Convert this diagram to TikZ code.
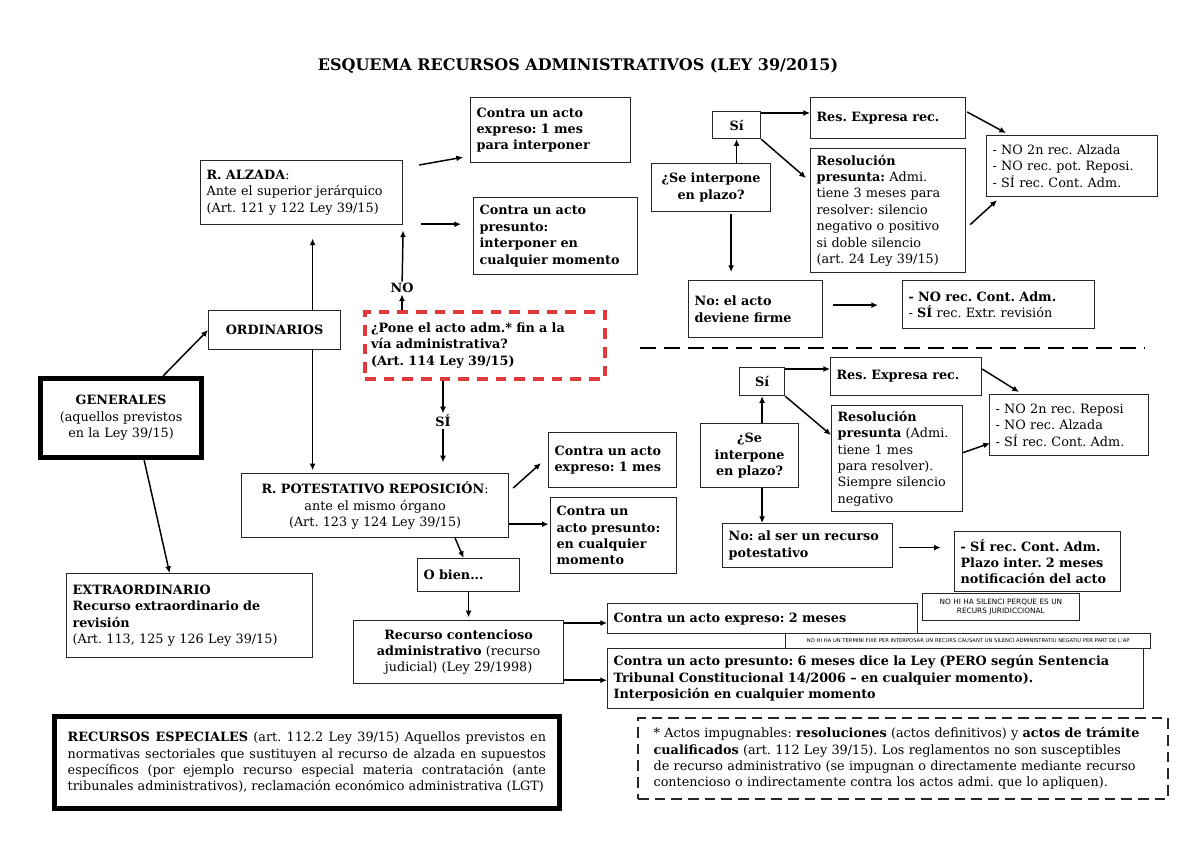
\documentclass[tikz,border=0pt]{standalone}
\usepackage{fontspec}
\setmainfont{DejaVu Serif}
\setsansfont{DejaVu Sans}
\usetikzlibrary{arrows.meta, calc, positioning}
\definecolor{redline}{HTML}{E0393B}
\newcommand\diagfont{\fontsize{9.6}{12.3}\selectfont}
\frenchspacing
\tikzset{
  box/.style={draw=black!85, line width=0.9pt, anchor=north west, inner xsep=4.5pt, inner ysep=2pt, font=\diagfont, align=left},
  boxc/.style={box, align=center},
  bbox/.style={box, font=\diagfont\bfseries},
  bboxc/.style={bbox, align=center},
  heavybox/.style={box, line width=3.6pt, draw=black},
  redbox/.style={bbox, draw=redline, line width=3pt, dash pattern=on 8pt off 6pt},
  notebox/.style={box, line width=1.4pt, dash pattern=on 8pt off 4.5pt},
  tinybox/.style={box, align=center, inner sep=1pt, line width=0.8pt},
  lbl/.style={font=\diagfont\bfseries, inner sep=1pt},
  sep/.style={line width=2.2pt, dash pattern=on 12pt off 6pt}
}

\begin{document}
\begin{tikzpicture}[x=0.75pt, y=-0.75pt]
  \tikzset{arr/.style={-{Latex[length=5pt,width=4.5pt]}, line width=1.1pt}};
  \fill[white] (0,0) rectangle (1200,848);
  \useasboundingbox (0,0) rectangle (1200,848);

  \node[font=\fontsize{12}{14}\selectfont\bfseries] (title) at (578,66) {ESQUEMA RECURSOS ADMINISTRATIVOS (LEY 39/2015)};

  % left column
  \node[heavybox, align=center, text width=112pt, minimum height=59.25pt] (generales) at (38,376) {\textbf{GENERALES}\\(aquellos previstos\\en la Ley 39/15)};
  \node[bboxc, text width=90pt, minimum height=29.25pt] (ordinarios) at (208,310) {ORDINARIOS};
  \node[box, text width=175.5pt, minimum height=63pt] (extra) at (66,573) {\textbf{EXTRAORDINARIO}\\\textbf{Recurso extraordinario de}\\\textbf{revisión}\\(Art. 113, 125 y 126 Ley 39/15)};

  % alzada
  \node[box, text width=142.5pt, minimum height=48pt] (alzada) at (200,160) {\textbf{R. ALZADA}:\\Ante el superior jerárquico\\(Art. 121 y 122 Ley 39/15)};
  \node[bbox, text width=111pt, minimum height=48.75pt] (expreso1) at (470,97) {Contra un acto\\expreso: 1 mes\\para interponer};
  \node[bbox, text width=114pt, minimum height=57.75pt] (presunto1) at (473,197) {Contra un acto\\presunto:\\interponer en\\cualquier momento};
  \node[redbox, text width=171pt, minimum height=50.25pt] (pone) at (363,310) {¿Pone el acto adm.* fin a la\\vía administrativa?\\(Art. 114 Ley 39/15)};
  \node[lbl] (nolbl) at (402,288) {NO};
  \node[lbl] (silbl) at (443,421) {SÍ};

  % potestativo
  \node[boxc, text width=191.25pt, minimum height=48pt] (potest) at (241,473) {\textbf{R. POTESTATIVO REPOSICIÓN}:\\ante el mismo órgano\\(Art. 123 y 124 Ley 39/15)};
  \node[bbox, text width=87pt, minimum height=41.25pt] (expreso2) at (548,432) {Contra un acto\\expreso: 1 mes};
  \node[bbox, text width=85.5pt, minimum height=57pt] (presunto2) at (550,497) {Contra un\\acto presunto:\\en cualquier\\momento};
  \node[bbox, text width=67.5pt, minimum height=24.75pt] (obien) at (417,558) {O bien...};

  % contencioso
  \node[boxc, text width=148.5pt, minimum height=47.25pt] (conten) at (353,620) {\textbf{Recurso contencioso}\\\textbf{administrativo} (recurso\\judicial) (Ley 29/1998)};
  \node[bbox, text width=223.5pt, minimum height=22.5pt] (expreso3) at (607,603) {Contra un acto expreso: 2 meses};
  \node[bbox, text width=393pt, minimum height=45pt] (presunto3) at (607,648) {Contra un acto presunto: 6 meses dice la Ley (PERO según Sentencia\\Tribunal Constitucional 14/2006 – en cualquier momento).\\Interposición en cualquier momento};
  \node[tinybox, text width=115.5pt, minimum height=20.25pt, font=\sffamily\fontsize{5.5}{6.8}\selectfont] (silenci) at (922,593) {NO HI HA SILENCI PERQUE ES UN\\RECURS JURIDICCIONAL};
  \node[tinybox, text width=272pt, minimum height=11.25pt, font=\sffamily\fontsize{3.9}{4.5}\selectfont] (termini) at (785,633) {NO HI HA UN TERMINI FIXE PER INTERPOSAR UN RECURS CAUSANT UN SILENCI ADMINISTRATIU NEGATIU PER PART DE L'AP};

  % upper right
  \node[bboxc, text width=27pt, minimum height=20.25pt] (si1) at (712,111) {Sí};
  \node[bboxc, text width=80.25pt, minimum height=36pt] (plazo1) at (651,163) {¿Se interpone\\en plazo?};
  \node[bbox, text width=107.25pt, minimum height=30.75pt] (resexp1) at (810,97) {Res. Expresa rec.};
  \node[box, text width=107.25pt, minimum height=93pt] (respres1) at (810,148) {\textbf{Resolución}\\\textbf{presunta:} Admi.\\tiene 3 meses para\\resolver: silencio\\negativo o positivo\\si doble silencio\\(art. 24 Ley 39/15)};
  \node[box, text width=119.25pt, minimum height=45.75pt] (list1) at (986,135) {- NO 2n rec. Alzada\\- NO rec. pot. Reposi.\\- SÍ rec. Cont. Adm.};
  \node[bbox, text width=91.5pt, minimum height=42.75pt] (firme1) at (688,280) {No: el acto\\deviene firme};
  \node[box, text width=135pt, minimum height=36pt] (result1) at (902,280) {\textbf{- NO rec. Cont. Adm.}\\- \textbf{SÍ} rec. Extr. revisión};

  % lower right
  \node[bboxc, text width=24.75pt, minimum height=21pt] (si2) at (739,367) {Sí};
  \node[bboxc, text width=64.5pt, minimum height=48pt] (plazo2) at (700,423) {¿Se\\interpone\\en plazo?};
  \node[bbox, text width=104.25pt, minimum height=28.5pt] (resexp2) at (830,357) {Res. Expresa rec.};
  \node[box, text width=89.25pt, minimum height=79.5pt] (respres2) at (831,405) {\textbf{Resolución}\\\textbf{presunta} (Admi.\\tiene 1 mes\\para resolver).\\Siempre silencio\\negativo};
  \node[box, text width=110.25pt, minimum height=45.75pt] (list2) at (989,394) {- NO 2n rec. Reposi\\- NO rec. Alzada\\- SÍ rec. Cont. Adm.};
  \node[bbox, text width=118.5pt, minimum height=33pt] (potestat2) at (722,523) {No: al ser un recurso\\potestativo};
  \node[bbox, text width=115.5pt, minimum height=45pt] (result2) at (954,531) {- SÍ rec. Cont. Adm.\\Plazo inter. 2 meses\\notificación del acto};

  % bottom
  \node[heavybox, align=justify, inner xsep=10pt, text width=358.75pt, minimum height=69pt] (especial) at (52,714) {\textbf{RECURSOS ESPECIALES} (art. 112.2 Ley 39/15) Aquellos previstos en\linebreak normativas sectoriales que sustituyen al recurso de alzada en supuestos\linebreak específicos (por ejemplo recurso especial materia contratación (ante\linebreak tribunales administrativos), reclamación económico administrativa (LGT)};
  \node[notebox, inner xsep=11.75pt, text width=374pt, minimum height=60.75pt] (nota) at (637,717) {* Actos impugnables: \textbf{resoluciones} (actos definitivos) y \textbf{actos de trámite}\\\textbf{cualificados} (art. 112 Ley 39/15). Los reglamentos no son susceptibles\\de recurso administrativo (se impugnan o directamente mediante recurso\\contencioso o indirectamente contra los actos admi. que lo apliquen).};

  \draw[sep] (640,348) coordinate (sepL) -- (1145,348) coordinate (sepR);

  % generales
  \draw[arr] ($(generales.north)+(42,0)$) -- (ordinarios.west);
  \draw[arr] ($(generales.south)+(23,0)$) -- ($(extra.north)+(-20,0)$);

  % ordinarios
  \draw[arr, shorten >=10pt] ($(ordinarios.north)+(38,0)$) coordinate (o1) -- (o1 |- alzada.south);
  \draw[arr, shorten >=2pt] ($(ordinarios.south)+(38,0)$) coordinate (o2) -- (o2 |- potest.north);

  % alzada
  \draw[arr] ($(alzada.north east)+(16,5)$) -- ($(expreso1.south west)+(-7,-6)$);
  \draw[arr, shorten >=9pt] ($(alzada.south east)+(18,-1)$) coordinate (a2) -- (a2 -| presunto1.west);

  % no / si
  \draw[arr] ($(pone.north west)+(39,0)$) -- (nolbl);
  \draw[arr, shorten >=4pt] (nolbl) -- (alzada.south east);
  \draw[arr] ($(pone.south west)+(80,0)$) -- (silbl);
  \draw[arr, shorten >=8pt] (silbl) -- (silbl |- potest.north);

  % potestativo
  \draw[arr] ($(potest.north east)+(4,15)$) -- ($(expreso2.west)+(-7,3)$);
  \draw[arr, shorten >=1pt] ($(potest.south east)+(0,-14)$) coordinate (p2) -- (p2 -| presunto2.west);
  \draw[arr] ($(potest.south)+(80,0)$) -- ($(obien.north)+(-5,0)$);
  \draw[arr, shorten >=2pt] (obien.south) -- (obien.south |- conten.north);

  % contencioso
  \draw[arr] ($(conten.north east)+(0,3)$) coordinate (c1) -- (c1 -| expreso3.west);
  \draw[arr] ($(conten.south east)+(0,-4)$) coordinate (c2) -- (c2 -| presunto3.west);

  % upper right
  \draw[arr] (plazo1.north -| si1.south) -- (si1.south);
  \draw[arr] ($(si1.north east)+(0,2)$) coordinate (s1) -- (s1 -| resexp1.west);
  \draw[arr] (si1.south east) -- ($(respres1.north west)+(-4,30)$);
  \draw[arr] ($(resexp1.north east)+(1,15)$) -- ($(list1.north west)+(20,-2)$);
  \draw[arr] ($(respres1.east)+(4,14)$) -- ($(list1.south west)+(11,3)$);
  \draw[arr, shorten >=6pt] ($(plazo1.south)+(20,2)$) coordinate (q1) -- (q1 |- firme1.north);
  \draw[arr, shorten >=18pt] ($(firme1.east)+(10,-4)$) coordinate (f1) -- (f1 -| result1.west);

  % lower right
  \draw[arr] (plazo2.north -| si2.south) -- (si2.south);
  \draw[arr] ($(si2.north east)+(0,2)$) coordinate (s2) -- (s2 -| resexp2.west);
  \draw[arr] (si2.south east) -- ($(respres2.north west)+(0,30)$);
  \draw[arr] ($(resexp2.north east)+(0,12)$) -- ($(list2.north west)+(30,-2)$);
  \draw[arr] ($(respres2.east)+(0,-6)$) -- ($(list2.south west)+(1,-13)$);
  \draw[arr] (plazo2.south -| si2.south) coordinate (q2) -- (q2 |- potestat2.north);
  \draw[arr, shorten >=10pt] ($(potestat2.east)+(6,2)$) coordinate (f2) -- (f2 -| result2.west);
\end{tikzpicture}
\end{document}
